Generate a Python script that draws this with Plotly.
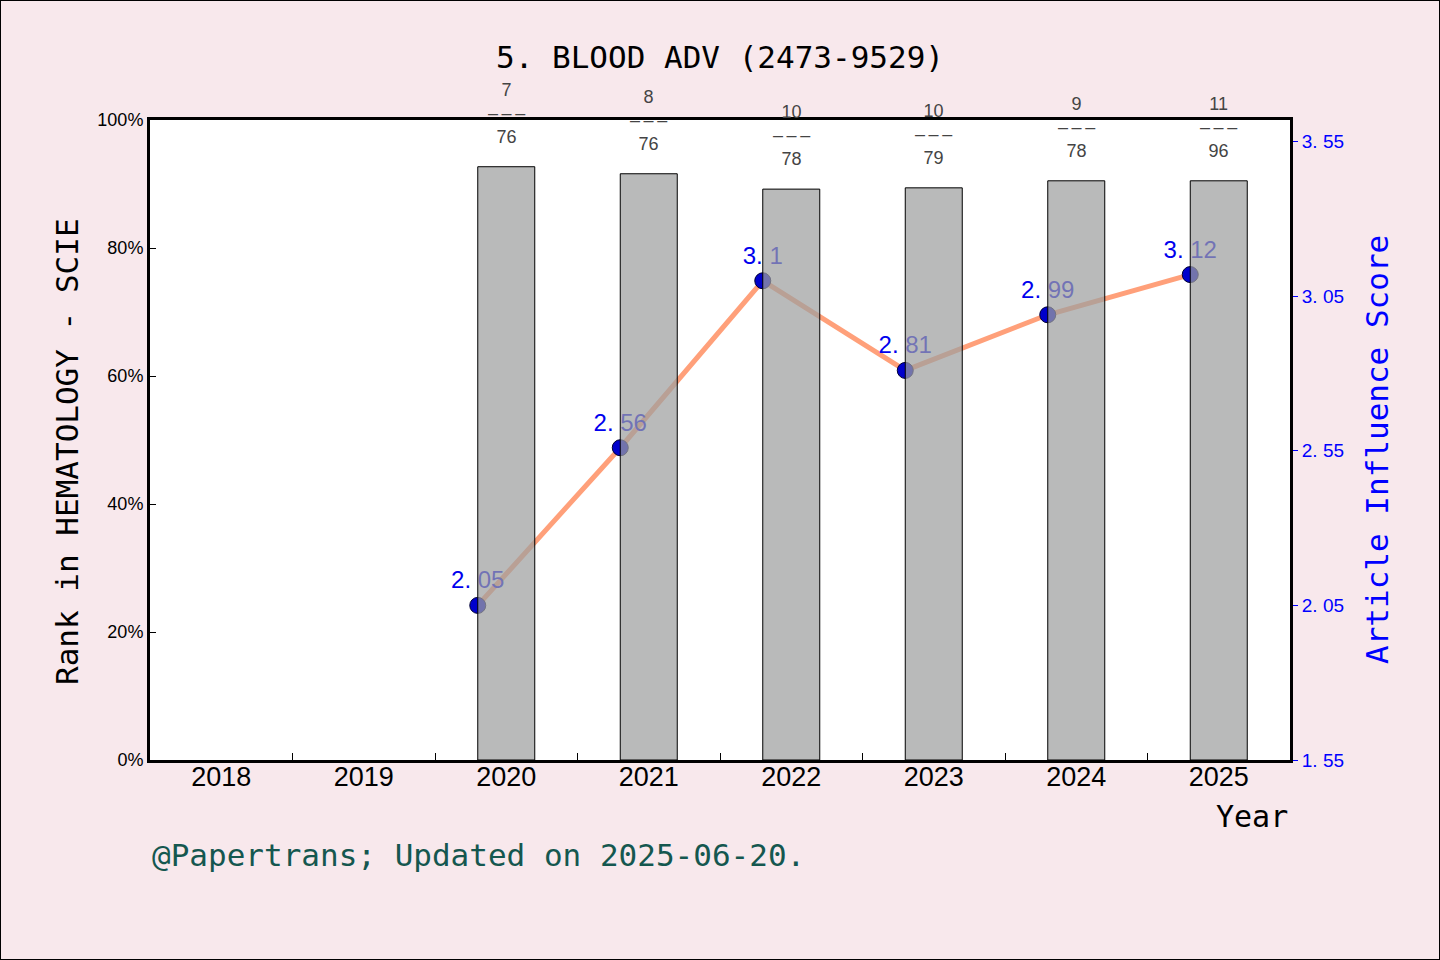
import plotly.graph_objects as go

years = ["2018", "2019", "2020", "2021", "2022", "2023", "2024", "2025"]
bar_years = ["2020", "2021", "2022", "2023", "2024", "2025"]
rank_pct = [92.7, 91.6, 89.2, 89.4, 90.5, 90.5]
rank_num = [7, 8, 10, 10, 9, 11]
rank_total = [76, 76, 78, 79, 78, 96]
ais = [2.05, 2.56, 3.10, 2.81, 2.99, 3.12]
ais_labels = ["2. 05", "2. 56", "3. 1", "2. 81", "2. 99", "3. 12"]
right_ticks = [1.55, 2.05, 2.55, 3.05, 3.55]
right_ticktext = ["1. 55", "2. 05", "2. 55", "3. 05", "3. 55"]
left_ticks = [0, 20, 40, 60, 80, 100]
left_ticktext = ["0%", "20%", "40%", "60%", "80%", "100%"]

MONO = "DejaVu Sans Mono"
SANS = "Liberation Sans"

idx = {y: i for i, y in enumerate(years)}
bar_x = [idx[y] for y in bar_years]
line_x = [idx[y] - 0.2 for y in bar_years]

fig = go.Figure()

# line on yaxis (right side) drawn below the bars
fig.add_trace(go.Scatter(
    x=line_x, y=ais, yaxis="y", mode="lines+markers+text",
    line=dict(color="#FFA07A", width=5),
    marker=dict(color="#0000CC", size=16, line=dict(color="#000033", width=1)),
    text=ais_labels, textposition="top center",
    textfont=dict(family=SANS, size=24, color="#0000EE"),
    cliponaxis=False, showlegend=False,
))

# bars on overlaying axis (left), semi-transparent on top
fig.add_trace(go.Bar(
    x=bar_x, y=rank_pct, yaxis="y2", width=0.4,
    marker=dict(color="rgba(158,159,160,0.72)", line=dict(color="black", width=1)),
    showlegend=False,
))

DASH = "\u2013\u2009\u2013\u2009\u2013"
for x, v, n, t in zip(bar_x, rank_pct, rank_num, rank_total):
    fig.add_annotation(
        x=x, y=v, xref="x", yref="y2", text=f"{n}<br>{DASH}<br>{t}",
        showarrow=False, yanchor="bottom", yshift=18,
        font=dict(family=SANS, size=18, color="#444444"),
    )

fig.add_annotation(
    x=1, y=-0.089, xref="paper", yref="paper", text="Year",
    showarrow=False, xanchor="right", yanchor="middle",
    font=dict(family=MONO, size=30, color="black"),
)
fig.add_annotation(
    x=0, y=-0.148, xref="paper", yref="paper",
    text="@Papertrans; Updated on 2025-06-20.",
    showarrow=False, xanchor="left", yanchor="middle",
    font=dict(family=MONO, size=31, color="#15574F"),
)
# axis titles
fig.add_annotation(
    x=-(150 - 67) / 1140, y=(760 - 452) / 640, xref="paper", yref="paper",
    text="Rank in HEMATOLOGY - SCIE", textangle=-90, showarrow=False,
    xanchor="center", yanchor="middle",
    font=dict(family=MONO, size=31, color="black"),
)
fig.add_annotation(
    x=1 + (1377 - 1290) / 1140, y=(760 - 450) / 640, xref="paper", yref="paper",
    text="Article Influence Score", textangle=-90, showarrow=False,
    xanchor="center", yanchor="middle",
    font=dict(family=MONO, size=31, color="blue"),
)

# outer border
fig.add_shape(
    type="rect", xref="paper", yref="paper",
    x0=-150 / 1140, x1=1 + 150 / 1140, y0=-200 / 640, y1=1 + 120 / 640,
    line=dict(color="black", width=2), fillcolor="rgba(0,0,0,0)",
)

fig.update_layout(
    width=1440, height=960,
    margin=dict(l=150, r=150, t=120, b=200),
    paper_bgcolor="#F8E8EC", plot_bgcolor="white",
    title=dict(
        text="5. BLOOD ADV (2473-9529)", x=0.5, xanchor="center",
        y=1 - 57 / 960, yanchor="middle",
        font=dict(family=MONO, size=31, color="black"),
    ),
    xaxis=dict(
        range=[-0.5, 7.5], tickmode="array", tickvals=list(range(len(years))),
        ticktext=years, ticks="", showgrid=False, zeroline=False,
        showline=True, linecolor="black", linewidth=3, mirror=True,
        ticklabelstandoff=-9,
        tickfont=dict(family=SANS, size=27, color="black"),
        minor=dict(ticks="inside", tickmode="array",
                   tickvals=[i + 0.5 for i in range(len(years) - 1)],
                   ticklen=7, tickcolor="black", tickwidth=1, showgrid=False),
    ),
    yaxis=dict(
        side="right", range=[1.55, 3.62], tickmode="array",
        tickvals=right_ticks, ticktext=right_ticktext,
        ticks="outside", ticklen=5, tickcolor="blue", tickwidth=1,
        showgrid=False, zeroline=False,
        showline=True, linecolor="black", linewidth=3,
        tickfont=dict(family=SANS, size=19, color="blue"),
    ),
    yaxis2=dict(
        overlaying="y", side="left", range=[0, 100], tickmode="array",
        tickvals=left_ticks, ticktext=left_ticktext,
        ticks="inside", ticklen=6, tickcolor="black", tickwidth=1,
        showgrid=False, zeroline=False,
        showline=True, linecolor="black", linewidth=3,
        tickfont=dict(family=SANS, size=18, color="black"),
    ),
)

fig.write_html("out.html")
